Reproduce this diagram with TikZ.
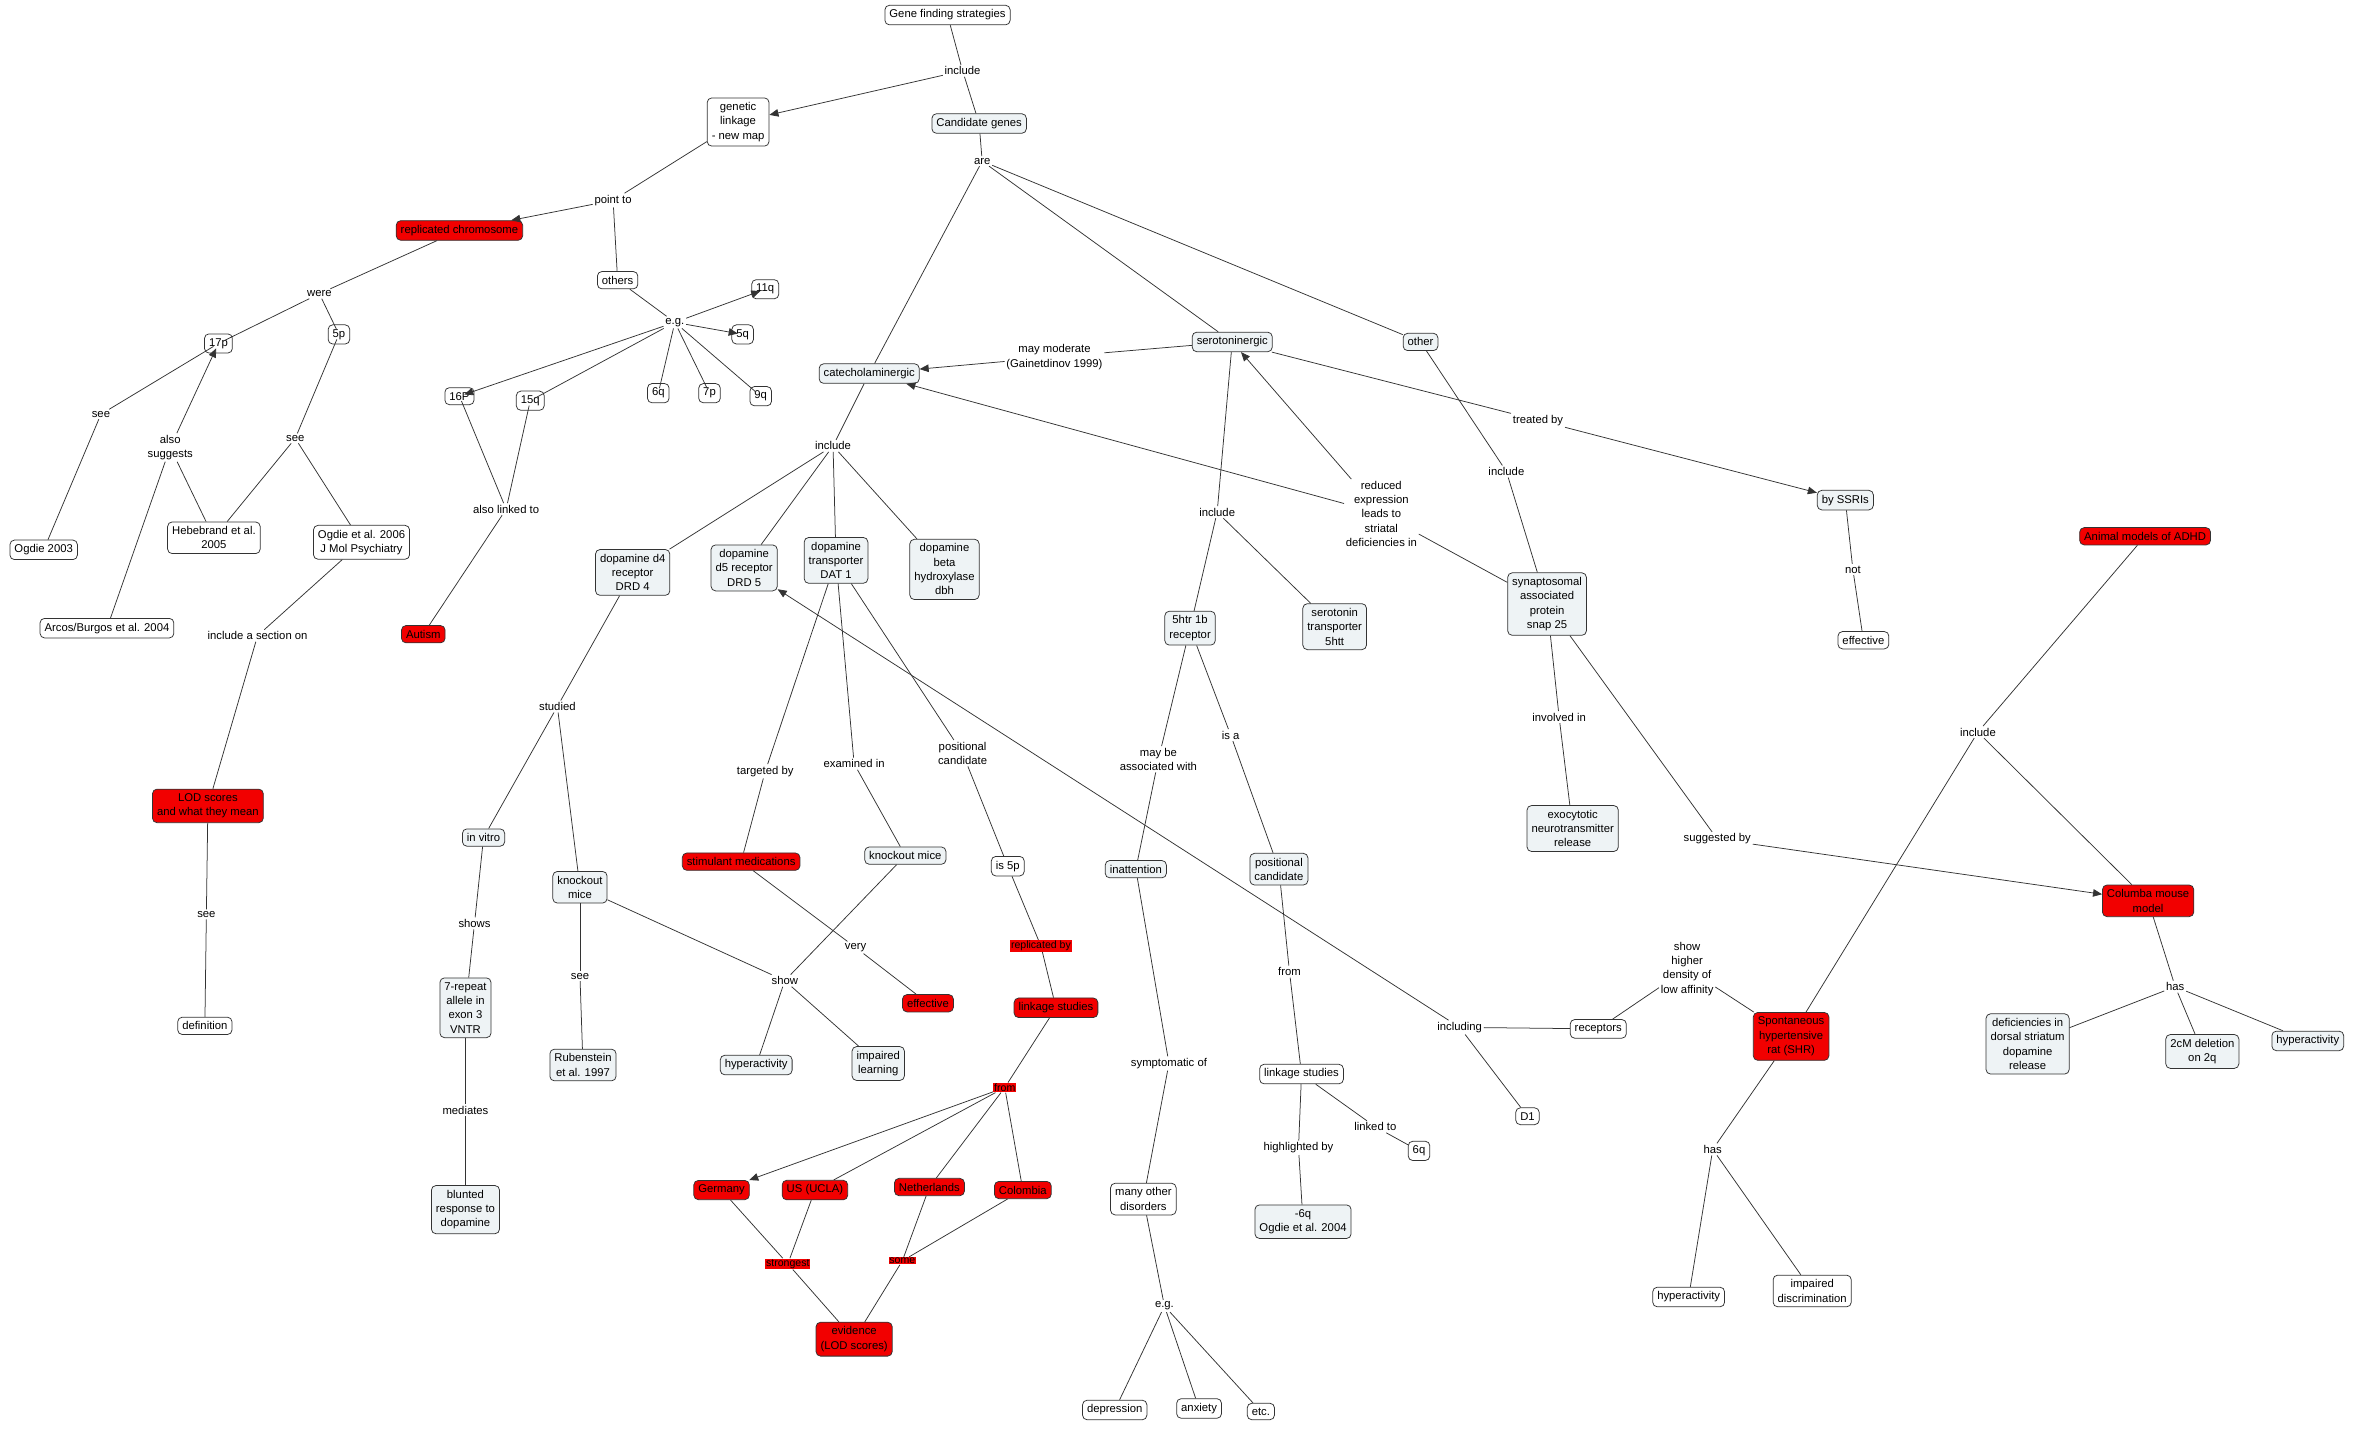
\documentclass[tikz,border=0pt]{standalone}
\usepackage{fontspec}
\setmainfont{Liberation Sans}
\usetikzlibrary{arrows.meta}
\definecolor{pale}{HTML}{EEF3F5}
\definecolor{hot}{HTML}{F20000}
\tikzset{
  concept/.style={draw,rounded corners=3pt,fill=white,align=center,inner sep=3pt,font=\fontsize{7.5}{9.5}\selectfont},
  pconcept/.style={concept,fill=pale},
  rconcept/.style={concept,fill=hot},
  lnk/.style={fill=white,align=center,inner sep=1pt,font=\fontsize{7.5}{9.5}\selectfont},
  rlnk/.style={fill=hot,inner sep=0.5pt,font=\fontsize{7}{8}\selectfont},
}
\begin{document}
\begin{tikzpicture}[x=1pt,y=-1pt,line width=0.5pt,draw=black!80,>={Triangle[length=6pt,width=5pt]}]
    \useasboundingbox (0,0) rectangle (1568,950);%
    % concepts
    \node[concept] (gfs) at (629,10) {Gene finding strategies};%
    \node[concept] (gen) at (490,81) {genetic\\linkage\\- new map};%
    \node[pconcept] (cand) at (650,82) {Candidate genes};%
    \node[rconcept] (repl) at (305,153) {replicated chromosome};%
    \node[concept] (others) at (410,186) {others};%
    \foreach \n/\x/\y in {c11q/508/192, c5q/493/222, p17/145/228, p5/225/222, c16P/305/263, c15q/352/266, c6q/437/261, c7p/471/261, c9q/505/263} {%
      \node[concept] (\n) at (\x,\y) {};%
    };%
    \node[concept] at (c11q) {11q};\node[concept] at (c5q) {5q};%
    \node[concept] at (p17) {17p};\node[concept] at (p5) {5p};%
    \node[concept] at (c16P) {16P};\node[concept] at (c15q) {15q};%
    \node[concept] at (c6q) {6q};\node[concept] at (c7p) {7p};\node[concept] at (c9q) {9q};%
    \node[pconcept] (cat) at (577,248) {catecholaminergic};%
    \node[pconcept] (sero) at (818,227) {serotoninergic};%
    \node[pconcept] (other) at (943,227) {other};%
    \node[pconcept] (ssri) at (1225,332) {by SSRIs};%
    \node[concept] (ogdie03) at (29,365) {Ogdie 2003};%
    \node[concept] (heb) at (142,357) {Hebebrand et al.\\2005};%
    \node[concept] (ogdie06) at (240,360) {Ogdie et al. 2006\\J Mol Psychiatry};%
    \node[concept] (arcos) at (71,417) {Arcos/Burgos et al. 2004};%
    \node[rconcept] (autism) at (281,421) {Autism};%
    \node[pconcept] (drd4) at (420,380) {dopamine d4\\receptor\\DRD 4};%
    \node[pconcept] (drd5) at (494,377) {dopamine\\d5 receptor\\DRD 5};%
    \node[pconcept] (dat) at (555,372) {dopamine\\transporter\\DAT 1};%
    \node[pconcept] (dbh) at (627,378) {dopamine\\beta\\hydroxylase\\dbh};%
    \node[concept] (eff1) at (1237,425) {effective};%
    \node[rconcept] (animal) at (1424,356) {Animal models of ADHD};%
    \node[pconcept] (snap) at (1027,401) {synaptosomal\\associated\\protein\\snap 25};%
    \node[pconcept] (htr) at (790,417) {5htr 1b\\receptor};%
    \node[pconcept] (sert) at (886,416) {serotonin\\transporter\\5htt};%
    \node[rconcept] (lod) at (138,535) {LOD scores\\and what they mean};%
    \node[pconcept] (exo) at (1044,550) {exocytotic\\neurotransmitter\\release};%
    \node[pconcept] (invitro) at (321,556) {in vitro};%
    \node[rconcept] (stim) at (492,572) {stimulant medications};%
    \node[pconcept] (komice) at (601,568) {knockout mice};%
    \node[concept] (is5p) at (669,575) {is 5p};%
    \node[pconcept] (inatt) at (754,577) {inattention};%
    \node[pconcept] (poscand) at (849,577) {positional\\candidate};%
    \node[pconcept] (ko2) at (385,589) {knockout\\mice};%
    \node[rconcept] (columbia) at (1426,598) {Columba mouse\\model};%
    \node[rconcept] (eff2) at (616,666) {effective};%
    \node[rconcept] (linkage) at (701,669) {linkage studies};%
    \node[pconcept] (seven) at (309,669) {7-repeat\\allele in\\exon 3\\VNTR};%
    \node[concept] (defn) at (136,681) {definition};%
    \node[concept] (receptors) at (1061,683) {receptors};%
    \node[rconcept] (shr) at (1189,688) {Spontaneous\\hypertensive\\rat (SHR)};%
    \node[pconcept] (dors) at (1346,693) {deficiencies in\\dorsal striatum\\dopamine\\release};%
    \node[pconcept] (cm2) at (1462,698) {2cM deletion\\on 2q};%
    \node[pconcept] (hyp3) at (1532,691) {hyperactivity};%
    \node[pconcept] (hyp1) at (502,707) {hyperactivity};%
    \node[pconcept] (impl) at (583,706) {impaired\\learning};%
    \node[pconcept] (rub) at (387,707) {Rubenstein\\et al. 1997};%
    \node[concept] (link2) at (864,713) {linkage studies};%
    \node[concept] (d1) at (1014,741) {D1};%
    \node[concept] (q6b) at (942,764) {6q};%
    \node[rconcept] (germany) at (479,790) {Germany};%
    \node[rconcept] (us) at (541,790) {US (UCLA)};%
    \node[rconcept] (neth) at (617,788) {Netherlands};%
    \node[rconcept] (colombia) at (679,790) {Colombia};%
    \node[concept] (many) at (759,796) {many other\\disorders};%
    \node[pconcept] (blunted) at (309,803) {blunted\\response to\\dopamine};%
    \node[pconcept] (ogdie04) at (865,811) {-6q\\Ogdie et al. 2004};%
    \node[concept] (hyp2) at (1121,861) {hyperactivity};%
    \node[concept] (impd) at (1203,857) {impaired\\discrimination};%
    \node[rconcept] (evid) at (567,889) {evidence\\(LOD scores)};%
    \node[concept] (depr) at (740,936) {depression};%
    \node[concept] (anx) at (796,935) {anxiety};%
    \node[concept] (etc) at (837,937) {etc.};%
    % linking phrases
    \node[lnk] (lInc) at (639,47) {include};%
    \node[lnk] (lAre) at (652,107) {are};%
    \node[lnk] (lPoint) at (407,133) {point to};%
    \node[lnk] (lWere) at (212,195) {were};%
    \node[lnk] (lEg) at (448,214) {e.g.};%
    \node[lnk] (lMay) at (700,237) {may moderate\\(Gainetdinov 1999)};%
    \node[lnk] (lSee1) at (67,275) {see};%
    \node[lnk] (lAlso) at (113,297) {also\\suggests};%
    \node[lnk] (lSee2) at (196,291) {see};%
    \node[lnk] (lInc2) at (553,296) {include};%
    \node[lnk] (lTreat) at (1021,279) {treated by};%
    \node[lnk] (lLinked) at (336,338) {also linked to};%
    \node[lnk] (lSec) at (171,422) {include a section on};%
    \node[lnk] (lInc3) at (808,340) {include};%
    \node[lnk] (lRed) at (917,341) {reduced\\expression\\leads to\\striatal\\deficiencies in};%
    \node[lnk] (lInc4) at (1000,313) {include};%
    \node[lnk] (lNot) at (1230,378) {not};%
    \node[lnk] (lStud) at (370,469) {studied};%
    \node[lnk] (lInv) at (1035,476) {involved in};%
    \node[lnk] (lInc5) at (1313,486) {include};%
    \node[lnk] (lMaybe) at (769,504) {may be\\associated with};%
    \node[lnk] (lIsa) at (817,488) {is a};%
    \node[lnk] (lPos) at (639,500) {positional\\candidate};%
    \node[lnk] (lTarg) at (508,512) {targeted by};%
    \node[lnk] (lExam) at (567,507) {examined in};%
    \node[lnk] (lSugg) at (1140,557) {suggested by};%
    \node[lnk] (lSee3) at (137,607) {see};%
    \node[lnk] (lShows) at (315,613) {shows};%
    \node[rlnk] (lRep) at (691,628) {replicated by};%
    \node[lnk] (lVery) at (568,629) {very};%
    \node[lnk] (lShow) at (521,651) {show};%
    \node[lnk] (lHigh) at (1120,643) {show\\higher\\density of\\low affinity};%
    \node[lnk] (lFrom1) at (856,645) {from};%
    \node[lnk] (lSee4) at (385,648) {see};%
    \node[lnk] (lHas1) at (1444,655) {has};%
    \node[lnk] (lIncl) at (969,682) {including};%
    \node[lnk] (lSymp) at (776,706) {symptomatic of};%
    \node[rlnk] (lFrom2) at (667,722) {from};%
    \node[lnk] (lMed) at (309,737) {mediates};%
    \node[lnk] (lLto) at (913,748) {linked to};%
    \node[lnk] (lHighl) at (862,762) {highlighted by};%
    \node[lnk] (lHas2) at (1137,763) {has};%
    \node[rlnk] (lStrong) at (523,839) {strongest};%
    \node[rlnk] (lSome) at (599,837) {some};%
    \node[lnk] (lEg2) at (773,867) {e.g.};%
    % connectors
    \begin{scope}[on background layer/.style={}]
    \foreach \a/\b in {gfs/lInc, lInc/cand, gen/lPoint, lPoint/others, repl/lWere, lWere/p17, lWere/p5,
      others/lEg, lEg/c15q, lEg/c6q, lEg/c7p, lEg/c9q, cand/lAre, lAre/cat, lAre/sero, lAre/other,
      p17/lSee1, lSee1/ogdie03, arcos/lAlso, heb/lAlso, p5/lSee2, lSee2/heb, lSee2/ogdie06,
      c16P/lLinked, c15q/lLinked, lLinked/autism, ogdie06/lSec, lSec/lod, lod/lSee3, lSee3/defn,
      sero/lMay, cat/lInc2, lInc2/drd4, lInc2/drd5, lInc2/dat, lInc2/dbh, sero/lTreat, ssri/lNot, lNot/eff1,
      sero/lInc3, lInc3/htr, lInc3/sert, snap/lRed, other/lInc4, lInc4/snap, snap/lInv, lInv/exo, snap/lSugg,
      animal/lInc5, lInc5/shr, lInc5/columbia, drd4/lStud, lStud/invitro, lStud/ko2,
      invitro/lShows, lShows/seven, seven/lMed, lMed/blunted, ko2/lSee4, lSee4/rub, ko2/lShow, komice/lShow,
      lShow/hyp1, lShow/impl, dat/lTarg, lTarg/stim, stim/lVery, lVery/eff2, dat/lExam, lExam/komice,
      dat/lPos, lPos/is5p, is5p/lRep, lRep/linkage, linkage/lFrom2, lFrom2/us, lFrom2/neth, lFrom2/colombia,
      germany/lStrong, us/lStrong, lStrong/evid, neth/lSome, colombia/lSome, lSome/evid,
      htr/lMaybe, lMaybe/inatt, inatt/lSymp, lSymp/many, many/lEg2, lEg2/depr, lEg2/anx, lEg2/etc,
      htr/lIsa, lIsa/poscand, poscand/lFrom1, lFrom1/link2, link2/lHighl, lHighl/ogdie04, link2/lLto, lLto/q6b,
      receptors/lIncl, lIncl/d1, receptors/lHigh, lHigh/shr, shr/lHas2, lHas2/hyp2, lHas2/impd,
      columbia/lHas1, lHas1/dors, lHas1/cm2, lHas1/hyp3} {%
      \draw (\a) -- (\b);%
    };%
    \foreach \a/\b in {lInc/gen, lPoint/repl, lEg/c11q, lEg/c5q, lEg/c16P, lAlso/p17, lMay/cat,
      lTreat/ssri, lRed/cat, lRed/sero, lSugg/columbia, lIncl/drd5, lFrom2/germany} {%
      \draw[->] (\a) -- (\b);%
    };%
    \end{scope}
  \end{tikzpicture}
\end{document}
